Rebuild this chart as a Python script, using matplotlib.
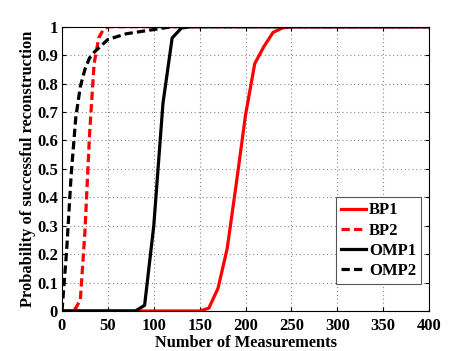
import numpy as np
import matplotlib
matplotlib.use('Agg')
import matplotlib.pyplot as plt

# values
bp1_x = [0, 150, 160, 170, 180, 190, 200, 210, 220, 230, 240, 250, 400]
bp1_y = [0, 0, 0.01, 0.08, 0.22, 0.45, 0.69, 0.87, 0.93, 0.98, 0.995, 1.0, 1.0]

bp2_x = [0, 10, 15, 20, 25, 30, 35, 40, 45, 50, 400]
bp2_y = [0, 0, 0.01, 0.04, 0.28, 0.62, 0.87, 0.96, 0.99, 1.0, 1.0]

omp1_x = [0, 80, 90, 100, 110, 120, 130, 140, 400]
omp1_y = [0, 0, 0.02, 0.30, 0.73, 0.96, 0.995, 1.0, 1.0]

omp2_x = [0, 5, 10, 15, 20, 25, 30, 35, 40, 50, 60, 70, 80, 90, 100, 110, 120, 400]
omp2_y = [0, 0.21, 0.48, 0.68, 0.79, 0.85, 0.89, 0.91, 0.925, 0.955, 0.965,
          0.975, 0.98, 0.985, 0.99, 0.995, 1.0, 1.0]

xticks = np.arange(0, 401, 50)
yticks = np.arange(0, 1.01, 0.1)
ytick_labels = ['0'] + ['%.1f' % v for v in yticks[1:-1]] + ['1']

plt.rcParams['font.family'] = ['Liberation Serif', 'DejaVu Serif']
plt.rcParams['font.weight'] = 'bold'

fig = plt.figure(figsize=(4.74, 3.51), dpi=100)
ax = fig.add_axes([0.1308, 0.114, 0.7745, 0.81])

lw = 2.3
ax.plot(bp1_x, bp1_y, color='red', lw=lw, label='BP1')
ax.plot(bp2_x, bp2_y, color='red', lw=lw, ls=(0, (2.6, 1.3)), label='BP2')
ax.plot(omp1_x, omp1_y, color='black', lw=lw, label='OMP1')
ax.plot(omp2_x, omp2_y, color='black', lw=lw, ls=(0, (2.6, 1.3)), label='OMP2')

ax.set_xlim(0, 400)
ax.set_ylim(0, 1)
ax.set_xticks(xticks)
ax.set_yticks(yticks)
ax.set_yticklabels(ytick_labels)
ax.tick_params(direction='in', top=True, right=True, length=3, labelsize=12)
ax.tick_params(axis='x', pad=5)
ax.tick_params(axis='y', pad=3)
for lab in ax.get_xticklabels() + ax.get_yticklabels():
    lab.set_fontweight('bold')
ax.grid(True, ls=(0, (1, 2.5)), color='#888888', lw=0.8)

ax.set_xlabel('Number of Measurements', fontsize=11.8, fontweight='bold', labelpad=1)
ax.set_ylabel('Probability of successful reconstruction', fontsize=11.8,
              fontweight='bold', labelpad=1)

leg = ax.legend(loc='lower right', bbox_to_anchor=(0.978, 0.095), fontsize=12,
                fancybox=False, framealpha=1, edgecolor='#555555',
                handlelength=1.5, handletextpad=0.2, borderpad=0.3,
                labelspacing=0.25, borderaxespad=0)
leg.get_frame().set_linewidth(0.8)
for t in leg.get_texts():
    t.set_fontweight('bold')

fig.savefig('out.png', dpi=100)
